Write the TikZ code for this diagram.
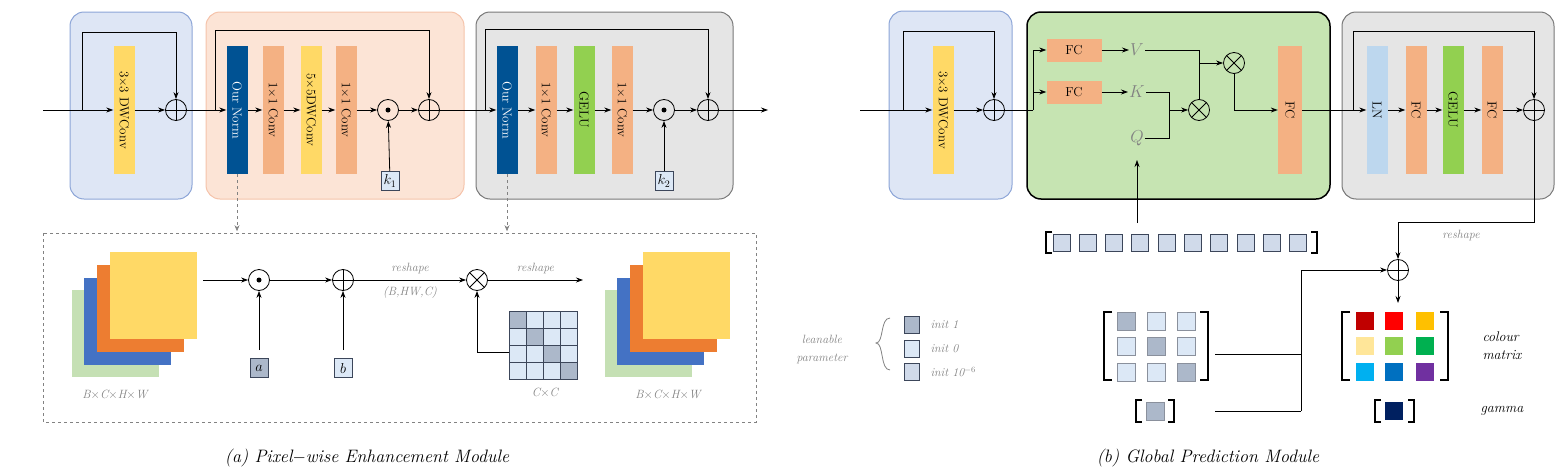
\documentclass[tikz,border=0pt]{standalone}
\usepackage{graphicx}
\usetikzlibrary{arrows.meta}
\definecolor{bxblue}{RGB}{222,230,245}\definecolor{bdblue}{RGB}{140,165,215}
\definecolor{bxor}{RGB}{252,228,214}\definecolor{bdor}{RGB}{245,195,170}
\definecolor{bxgr}{RGB}{229,229,229}\definecolor{bdgr}{RGB}{120,120,120}
\definecolor{bxgn}{RGB}{198,228,178}
\definecolor{cyel}{RGB}{255,217,102}\definecolor{cor}{RGB}{244,177,131}
\definecolor{cdb}{RGB}{0,82,147}\definecolor{cgn}{RGB}{146,208,80}
\definecolor{cln}{RGB}{189,215,238}
\definecolor{sgn}{RGB}{197,224,180}\definecolor{sbl}{RGB}{68,114,196}
\definecolor{sor}{RGB}{237,125,49}
\definecolor{pdark}{RGB}{172,184,202}\definecolor{plight}{RGB}{220,232,246}
\definecolor{pmid}{RGB}{208,218,234}\definecolor{pbd}{RGB}{60,70,90}
\definecolor{tg}{RGB}{130,130,130}
\begin{document}
\begin{tikzpicture}[x=1pt,y=-1pt,
  arr/.style={-{Stealth[length=7pt,width=5pt]},line width=0.8pt},
  ln/.style={line width=0.8pt},
  dasharr/.style={-{Stealth[length=6pt,width=5pt]},dashed,tg,line width=0.6pt},
  mod/.style={rounded corners=14pt,line width=1pt},
  bar/.style={minimum width=21pt,minimum height=128pt,inner sep=0pt,font=\fontsize{13}{13}\selectfont},
  opc/.style={circle,draw,line width=0.8pt,minimum size=21pt,inner sep=0pt},
  oplus/.style={opc,path picture={\draw[line width=0.8pt] (path picture bounding box.north)--(path picture bounding box.south) (path picture bounding box.west)--(path picture bounding box.east);}},
  otimes/.style={opc,path picture={\draw[line width=0.8pt] (path picture bounding box.north west)--(path picture bounding box.south east) (path picture bounding box.south west)--(path picture bounding box.north east);}},
  odot/.style={opc,path picture={\fill (path picture bounding box.center) circle (2.5pt);}},
  par/.style={draw=pbd,line width=1pt,minimum width=18pt,minimum height=19pt,inner sep=0pt,font=\fontsize{14}{14}\selectfont\itshape},
  gt/.style={tg,font=\fontsize{12}{12}\selectfont\itshape},
  captxt/.style={font=\fontsize{18}{18}\selectfont\itshape},
  qk/.style={tg,font=\fontsize{16}{16}\selectfont\itshape,inner sep=1pt},
  brk/.style={line width=1.8pt}]
\useasboundingbox (0,0) rectangle (1560,474);
% ---------- part (a) modules
\draw[mod,fill=bxblue,draw=bdblue] (70,12) rectangle (192,199);
\draw[mod,fill=bxor,draw=bdor] (206,12) rectangle (464,199);
\draw[mod,fill=bxgr,draw=bdgr] (476,12) rectangle (733,199);
\node[bar,fill=cyel] (dw1) at (124,110) {\rotatebox{-90}{3$\times$3 DWConv}};
\node[oplus] (p1) at (176,110) {};
\node[bar,fill=cdb,text=white] (n1) at (237,110) {\rotatebox{-90}{Our Norm}};
\node[bar,fill=cor] (c1) at (273,110) {\rotatebox{-90}{1$\times$1 Conv}};
\node[bar,fill=cyel] (d5) at (311,110) {\rotatebox{-90}{5$\times$5DWConv}};
\node[bar,fill=cor] (c2) at (346,110) {\rotatebox{-90}{1$\times$1 Conv}};
\node[odot] (od1) at (388,110) {};
\node[oplus] (p2) at (429,110) {};
\node[par,fill=plight] (k1) at (390,181) {$k_1$};
\node[bar,fill=cdb,text=white] (n2) at (507,110) {\rotatebox{-90}{Our Norm}};
\node[bar,fill=cor] (c3) at (546,110) {\rotatebox{-90}{1$\times$1 Conv}};
\node[bar,fill=cgn] (g1) at (584,110) {\rotatebox{-90}{GELU}};
\node[bar,fill=cor] (c4) at (622,110) {\rotatebox{-90}{1$\times$1 Conv}};
\node[odot] (od2) at (664,110) {};
\node[oplus] (p3) at (708,110) {};
\node[par,fill=plight] (k2) at (664,181) {$k_2$};
\coordinate (in1) at (43,110); \coordinate (out1) at (768,110);
\coordinate (s1) at (82,110); \coordinate (s2) at (215,110); \coordinate (s3) at (485,110);
\draw[arr] (in1)--(dw1); \draw[arr] (dw1)--(p1); \draw[arr] (s1)--++(0,-78)-|(p1);
\draw[arr] (p1)--(n1); \draw[arr] (s2)--++(0,-80)-|(p2);
\draw[arr] (n1)--(c1); \draw[arr] (c1)--(d5); \draw[arr] (d5)--(c2); \draw[arr] (c2)--(od1);
\draw[arr] (od1)--(p2); \draw[arr] (k1)--(od1);
\draw[arr] (p2)--(n2); \draw[arr] (s3)--++(0,-81)-|(p3);
\draw[arr] (n2)--(c3); \draw[arr] (c3)--(g1); \draw[arr] (g1)--(c4); \draw[arr] (c4)--(od2);
\draw[arr] (od2)--(p3); \draw[arr] (k2)--(od2); \draw[arr] (p3)--(out1);
\draw[dasharr] (n1.south)--++(0,57);
\draw[dasharr] (n2.south)--++(0,57);
% ---------- lower (a)
\draw[dashed,tg,line width=1pt] (43,233) rectangle (756,422);
\foreach \c/\dx in {sgn/0,sbl/12,sor/25,cyel/38}{
  \fill[\c] (72+\dx,290-\dx) rectangle ++(87,87);
  \fill[\c] (605+\dx,290-\dx) rectangle ++(87,87);}
\node[gt] (l1) at (115,395) {B$\times$C$\times$H$\times$W};
\node[gt] (l2) at (668,395) {B$\times$C$\times$H$\times$W};
\coordinate (st1) at (203,280); \coordinate (st2) at (583,280);
\node[odot] (od3) at (259,280) {};
\node[oplus] (p4a) at (343,280) {};
\node[otimes] (ot0) at (477,280) {};
\node[par,fill=pdark] (pa) at (259,368) {$a$};
\node[par,fill=plight] (pb) at (343,368) {$b$};
\draw[arr] (st1)--(od3); \draw[arr] (od3)--(p4a);
\draw[arr] (p4a)--node[gt,above=2pt]{reshape} node[gt,below=3pt]{(B,HW,C)} (ot0);
\draw[arr] (ot0)--node[gt,above=2pt]{reshape}(st2);
\draw[arr,line width=0.6pt] (pa.north)++(0,-8)--(od3);
\draw[arr,line width=0.6pt] (pb.north)++(0,-8)--(p4a);
\foreach \i in {0,...,3}{\foreach \j in {0,...,3}{
  \pgfmathsetmacro\fc{\i==\j ? "pdark" : "plight"}
  \draw[fill=\fc,draw=pbd,line width=0.7pt] (509+17*\i,311+17*\j) rectangle ++(17,17);}}
\coordinate (mL) at (509,352);
\draw[arr] (mL)-|(ot0);
\node[gt] (lcc) at (545,393) {C$\times$C};
% legend
\node[gt,align=center] (lp) at (822,349) {leanable\\[6pt]parameter};
\draw[tg,line width=0.8pt] (890,318) .. controls (880,318) and (884,343) .. (876,343) .. controls (884,343) and (880,370) .. (890,370);
\node[par,fill=pdark,minimum width=15pt,minimum height=17pt] (q1) at (912,325) {};
\node[par,fill=plight,minimum width=15pt,minimum height=17pt] (q2) at (912,349) {};
\node[par,fill=pmid,minimum width=15pt,minimum height=17pt] (q3) at (912,372) {};
\node[gt,anchor=west] at (927,325) {init 1};
\node[gt,anchor=west] at (927,349) {init 0};
\node[gt,anchor=west] at (927,372) {init 10$^{-6}$};
\node[captxt] (capa) at (367,458) {(a) Pixel$-$wise Enhancement Module};
% ---------- part (b)
\draw[mod,fill=bxblue,draw=bdblue] (889,11) rectangle (1012,199);
\draw[mod,fill=bxgn,draw=black,line width=1.5pt] (1027,12) rectangle (1330,199);
\draw[mod,fill=bxgr,draw=bdgr] (1342,12) rectangle (1554,199);
\node[bar,fill=cyel] (dw2) at (943,110) {\rotatebox{-90}{3$\times$3 DWConv}};
\node[oplus] (p5a) at (994,110) {};
\coordinate (in2) at (860,110); \coordinate (s4) at (903,110);
\draw[arr] (in2)--(dw2); \draw[arr] (dw2)--(p5a); \draw[arr] (s4)--++(0,-79)-|(p5a);
\node[fill=cor,minimum width=55pt,minimum height=23pt,inner sep=0pt,font=\fontsize{13}{13}\selectfont] (fc1) at (1074,50) {FC};
\node[fill=cor,minimum width=55pt,minimum height=23pt,inner sep=0pt,font=\fontsize{13}{13}\selectfont] (fc2) at (1074,92) {FC};
\coordinate (br) at (1033,110);
\draw[ln] (p5a)--(br); \draw[arr] (br)|-(fc1); \draw[arr] (br)|-(fc2);
\node[qk] (V) at (1137,50) {$V$};
\node[qk] (K) at (1137,92) {$K$};
\node[qk] (Q) at (1137,138) {$Q$};
\draw[arr] (fc1)--(V); \draw[arr] (fc2)--(K);
\node[otimes] (ot1) at (1234,63) {};
\node[otimes] (ot2) at (1199,110) {};
\coordinate (j1) at (1199,63); \coordinate (j2) at (1169,110);
\draw[ln] (V)-|(j1); \draw[ln] (ot2)--(j1); \draw[arr] (j1)--(ot1);
\draw[ln] (K)-|(j2); \draw[ln] (Q)-|(j2); \draw[arr] (j2)--(ot2);
\node[bar,fill=cor,minimum width=24pt] (fcb) at (1290,110) {\rotatebox{-90}{FC}};
\draw[arr] (ot1)|-(fcb);
\node[bar,fill=cln] (LN) at (1377,110) {\rotatebox{-90}{LN}};
\node[bar,fill=cor] (fc3) at (1416,110) {\rotatebox{-90}{FC}};
\node[bar,fill=cgn] (g2) at (1453,110) {\rotatebox{-90}{GELU}};
\node[bar,fill=cor] (fc4) at (1492,110) {\rotatebox{-90}{FC}};
\node[oplus] (p6) at (1534,110) {};
\coordinate (s5) at (1353,110);
\draw[arr] (fcb)--(LN); \draw[arr] (s5)--++(0,-79)-|(p6);
\draw[arr] (LN)--(fc3); \draw[arr] (fc3)--(g2); \draw[arr] (g2)--(fc4); \draw[arr] (fc4)--(p6);
% sequence
\draw[brk] (1052,232)--(1046,232)--(1046,253)--(1052,253);
\draw[brk] (1311,232)--(1317,232)--(1317,253)--(1311,253);
\foreach \i in {0,...,9}{\draw[fill=pmid,draw=pbd,line width=1pt] (1053+26.3*\i,234) rectangle ++(17,17);}
\coordinate (sq) at (1137,223);
\draw[arr,line width=0.6pt] (sq)--(1137,160);
% global branch
\node[oplus] (p7) at (1398,270) {};
\draw[arr] (p6)--(1534,222)-|(p7);
\node[gt] at (1461,235) {reshape};
\coordinate (cm) at (1398,303);
\draw[arr] (p7)--(cm);
\draw[brk] (1112,312)--(1104,312)--(1104,380)--(1112,380);
\draw[brk] (1200,312)--(1208,312)--(1208,380)--(1200,380);
\foreach \i/\xx in {0/1126,1/1156,2/1186}{\foreach \j/\yy in {0/321,1/346,2/372}{
  \pgfmathsetmacro\fc{\i==\j ? "pdark" : "plight"}
  \draw[fill=\fc,draw=pbd!60,line width=0.6pt] (\xx-9,\yy-9) rectangle ++(18,18);}}
\draw[brk] (1142,400)--(1136,400)--(1136,422)--(1142,422);
\draw[brk] (1168,400)--(1174,400)--(1174,422)--(1168,422);
\draw[fill=pdark,draw=pbd!60,line width=0.6pt] (1146,402) rectangle ++(18,18);
\coordinate (jg) at (1301,411); \coordinate (jm) at (1301,354);
\draw[ln] (1215,354)--(jm); \draw[ln] (1215,411)--(jg);
\draw[ln] (jg)--(jm); \draw[arr] (jm)|-(p7);
\draw[brk] (1350,312)--(1342,312)--(1342,380)--(1350,380);
\draw[brk] (1440,312)--(1448,312)--(1448,380)--(1440,380);
\foreach \c/\xx/\yy in {{192,0,0}/1365/321,{255,0,0}/1394/321,{255,192,0}/1425/321,
  {255,230,153}/1365/346,{146,208,80}/1394/346,{0,176,80}/1425/346,
  {0,176,240}/1365/372,{0,112,192}/1394/372,{112,48,160}/1425/372}{
  \definecolor{tmpc}{RGB}{\c}\fill[tmpc] (\xx-9,\yy-9) rectangle ++(18,18);}
\draw[brk] (1381,400)--(1375,400)--(1375,422)--(1381,422);
\draw[brk] (1408,400)--(1414,400)--(1414,422)--(1408,422);
\definecolor{navy}{RGB}{0,32,96}\fill[navy] (1385,402) rectangle ++(18,18);
\node[font=\fontsize{14}{14}\selectfont\itshape,align=left] at (1502,346) {colour\\[4pt]matrix};
\node[font=\fontsize{14}{14}\selectfont\itshape] at (1502,411) {gamma};
\node[captxt] (capb) at (1208,458) {(b) Global Prediction Module};
\end{tikzpicture}
\end{document}
